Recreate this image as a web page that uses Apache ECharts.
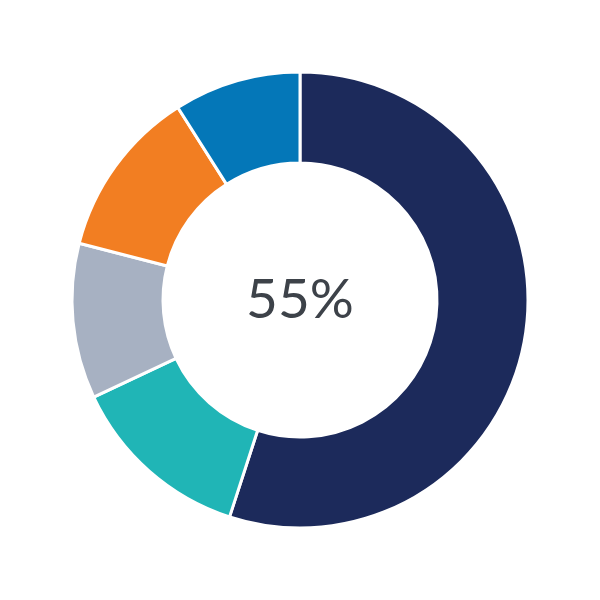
<!DOCTYPE html>
<html><head><meta charset="utf-8">
<script src="https://cdn.jsdelivr.net/npm/echarts@6/dist/echarts.min.js"></script>
<style>html,body{margin:0;padding:0;background:#fff}#c{width:600px;height:600px}</style>
</head><body><div id="c"></div>
<script>
const categories = ['A', 'B', 'C', 'D', 'E'];
const values = [55, 13, 11, 12, 9];
const colors = ['#1c2a5b', '#20b5b6', '#a7b1c2', '#f27e22', '#0477b8'];
const centerLabel = '55%';

const chart = echarts.init(document.getElementById('c'), null, {renderer: 'canvas'});
chart.setOption({
  animation: false,
  series: [{
    type: 'pie',
    center: [300, 300],
    radius: [137, 228],
    startAngle: 90,
    clockwise: true,
    label: {show: false},
    labelLine: {show: false},
    itemStyle: {borderColor: '#fff', borderWidth: 3},
    data: categories.map((c, i) => ({name: c, value: values[i], itemStyle: {color: colors[i]}}))
  }],
  graphic: [{
    type: 'text',
    left: 'center',
    top: 'middle',
    style: {text: centerLabel, fontFamily: '"Lato"', fontSize: 55, fill: '#3d4249'}
  }]
});
</script></body></html>
